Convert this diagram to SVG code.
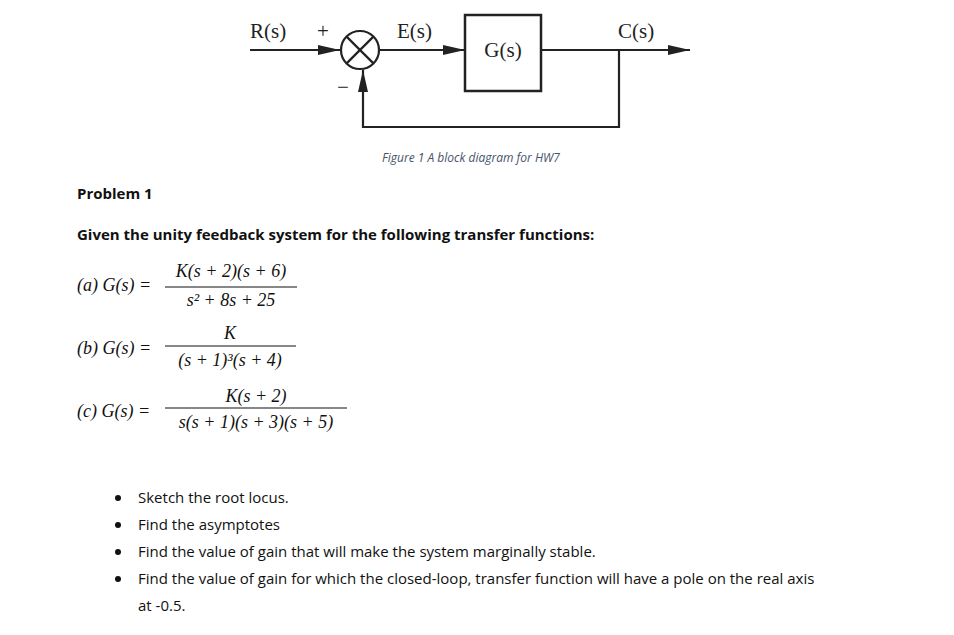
<svg xmlns="http://www.w3.org/2000/svg" width="954" height="635" viewBox="0 0 954 635">
<style>
.ln{stroke:#222;stroke-width:2.2;fill:none}
.lb{font-family:"Liberation Serif",serif;font-size:21px;fill:#222}
.m{font-family:"Liberation Serif",serif;font-style:italic;font-size:18px;fill:#111}
.t{font-family:"Open Sans","Liberation Sans",sans-serif;font-size:15px;fill:#111}
.b{font-weight:bold}
</style>
<defs><marker id="ah" markerWidth="10" markerHeight="8" refX="10" refY="4" orient="auto" markerUnits="userSpaceOnUse"><path d="M0,0 L10,4 L0,8 z" fill="#222"/></marker>
<marker id="ah2" markerWidth="22" markerHeight="10" refX="22" refY="5" orient="auto" markerUnits="userSpaceOnUse"><path d="M0,0 L22,5 L0,10 z" fill="#222"/></marker></defs>
<rect width="954" height="635" fill="#fff"/>
<g id="connectors">
<line class="ln" x1="250" y1="50" x2="340" y2="50" marker-end="url(#ah2)"/>
<line class="ln" x1="380" y1="50" x2="465" y2="50" marker-end="url(#ah2)"/>
<line class="ln" x1="541" y1="50" x2="690" y2="50" marker-end="url(#ah2)"/>
<polyline class="ln" points="619,50 619,127 363,127 363,70" marker-end="url(#ah2)"/>
</g>
<g id="sum"><circle cx="360" cy="50" r="19" class="ln"/><line class="ln" x1="346.6" y1="36.6" x2="373.4" y2="63.4"/><line class="ln" x1="373.4" y1="36.6" x2="346.6" y2="63.4"/>
<text class="lb" x="317" y="38">+</text><text class="lb" x="337" y="94">−</text></g>
<g id="G"><rect x="465" y="15" width="76" height="76" fill="none" stroke="#222" stroke-width="2.5"/><text class="lb" x="503" y="57" text-anchor="middle">G(s)</text></g>
<g id="labels"><text class="lb" x="250" y="38">R(s)</text><text class="lb" x="397" y="38">E(s)</text><text class="lb" x="618" y="38">C(s)</text></g>
<text x="471" y="162" text-anchor="middle" font-family="Open Sans,Liberation Sans,sans-serif" font-style="italic" font-size="12" fill="#44546a">Figure 1 A block diagram for HW7</text>
<text class="t b" x="77" y="199">Problem 1</text>
<text class="t b" x="77" y="240">Given the unity feedback system for the following transfer functions:</text>
<g class="m">
<text x="77" y="291">(a) G(s) =</text><text x="231" y="277" text-anchor="middle">K(s + 2)(s + 6)</text><text x="231" y="306" text-anchor="middle">s² + 8s + 25</text>
<text x="77" y="354">(b) G(s) =</text><text x="230" y="339" text-anchor="middle">K</text><text x="230" y="366" text-anchor="middle">(s + 1)³(s + 4)</text>
<text x="77" y="417">(c) G(s) =</text><text x="256" y="402" text-anchor="middle">K(s + 2)</text><text x="256" y="428" text-anchor="middle">s(s + 1)(s + 3)(s + 5)</text>
</g>
<g stroke="#111" stroke-width="1.2"><line x1="165" y1="287" x2="297" y2="287"/><line x1="165" y1="346" x2="296" y2="346"/><line x1="165" y1="408" x2="347" y2="408"/></g>
<g fill="#111"><circle cx="118" cy="498" r="3"/><circle cx="118" cy="525" r="3"/><circle cx="118" cy="552" r="3"/><circle cx="118" cy="579" r="3"/></g>
<g class="t"><text x="138" y="503">Sketch the root locus.</text><text x="138" y="530">Find the asymptotes</text><text x="138" y="557">Find the value of gain that will make the system marginally stable.</text><text x="138" y="584">Find the value of gain for which the closed-loop, transfer function will have a pole on the real axis</text><text x="138" y="611">at -0.5.</text></g>
</svg>
